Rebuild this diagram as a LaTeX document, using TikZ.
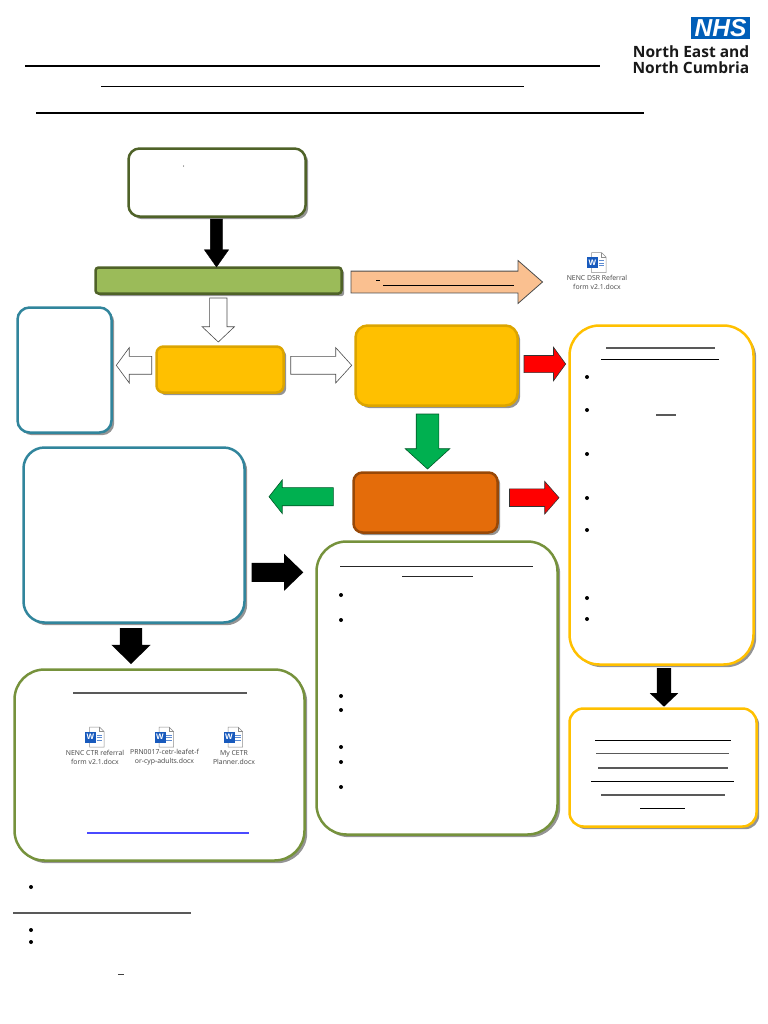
\documentclass[tikz,border=0pt]{standalone}
\usepackage{fontspec}
\setmainfont{Open Sans}
\newfontfamily\nhsfont{Liberation Sans}
\usepackage{tikz}
\usetikzlibrary{shapes.arrows,shadows}

\definecolor{oliveline}{HTML}{4F6228}
\definecolor{barfill}{HTML}{9BBB59}
\definecolor{mossline}{HTML}{76923C}
\definecolor{tealline}{HTML}{31859C}
\definecolor{amberfill}{HTML}{FFC000}
\definecolor{amberline}{HTML}{DCA500}
\definecolor{orangefill}{HTML}{E46C0A}
\definecolor{orangeline}{HTML}{984807}
\definecolor{peachfill}{HTML}{FAC090}
\definecolor{arrowgreen}{HTML}{00B050}
\definecolor{nhsblue}{HTML}{005EB8}
\definecolor{wordblue}{HTML}{185ABD}
\definecolor{linkblue}{HTML}{4A4AFF}
\definecolor{filetext}{HTML}{444444}

\tikzset{
  panel/.style={draw,line width=2.5bp,fill=white,drop shadow={shadow xshift=2.7bp,shadow yshift=-2.7bp,fill=black!60,opacity=0.7}},
  block/.style n args={4}{single arrow,anchor=tail,outer sep=0pt,inner xsep=0pt,inner ysep={#2/2*1bp},
    minimum height=#1 bp,single arrow head extend={(#3-#2)/2*1bp},single arrow tip angle={2*atan(#3/2/#4)}},
  rulehead/.style={line width=2bp,black},
  ruletext/.style={line width=1.2bp,black!65},
  ruleblack/.style={line width=1bp,black},
  dotitem/.style={circle,fill=black,inner sep=0pt,minimum size=4bp},
  filelabel/.style={align=center,font=\fontsize{6.9}{9}\selectfont,text=filetext,inner sep=0pt},
  pics/wordicon/.style={code={
    \draw [fill=white,draw=black!45,line width=0.5bp] (-5bp,10bp) -- (5bp,10bp) -- (9.5bp,5.5bp) -- (9.5bp,-10bp) -- (-5bp,-10bp) -- cycle;
    \draw [draw=black!45,line width=0.5bp] (5bp,10bp) -- (5bp,5.5bp) -- (9.5bp,5.5bp);
    \draw [wordblue!70,line width=0.8bp] (2bp,2bp) -- (7.5bp,2bp) (2bp,-0.5bp) -- (7.5bp,-0.5bp) (2bp,-3bp) -- (7.5bp,-3bp);
    \node at (-4bp,0bp)[fill=wordblue,minimum size=11bp,inner sep=0pt,text=white,font=\nhsfont\bfseries\fontsize{8}{8}\selectfont] {W};
  }},
}

\begin{document}
\begin{tikzpicture}
\useasboundingbox (0bp,0bp) rectangle (768bp,-1024bp);

% title rules
\draw [rulehead] (25bp,-66bp) -- (600bp,-66bp);
\draw [ruleblack] (101bp,-86bp) -- (524bp,-86bp);
\draw [rulehead] (36bp,-113bp) -- (644bp,-113bp);

% logo
\node (nhsbox) at (720.5bp,-28.2bp)[fill=nhsblue,minimum width=59bp,minimum height=22.5bp,inner sep=0pt,text=white,font=\nhsfont\bfseries\itshape\fontsize{24.6}{24}\selectfont] {NHS};
\node (trust1) at (749.5bp,-52bp)[anchor=east,inner sep=0pt,font=\bfseries\fontsize{15.6}{16}\selectfont,text=black!90] {North East and};
\node (trust2) at (749.5bp,-68bp)[anchor=east,inner sep=0pt,font=\bfseries\fontsize{15.6}{16}\selectfont,text=black!90] {North Cumbria};

% boxes
\node (start) at (217bp,-182.5bp)[panel,draw=oliveline,rounded corners=11bp,minimum width=177bp,minimum height=68bp] {};
\node (bar) at (218.5bp,-280.5bp)[panel,draw=oliveline,fill=barfill,rounded corners=3bp,minimum width=246bp,minimum height=26bp] {};
\node (leftnote) at (64.5bp,-370bp)[panel,draw=tealline,rounded corners=12bp,minimum width=94bp,minimum height=125bp] {};
\node (triage) at (220bp,-369.5bp)[panel,draw=amberline,fill=amberfill,rounded corners=7bp,minimum width=127bp,minimum height=46bp] {};
\node (review) at (436.5bp,-365.5bp)[panel,draw=amberline,fill=amberfill,rounded corners=12bp,minimum width=162bp,minimum height=80bp] {};
\node (criteria) at (661.5bp,-495bp)[panel,draw=amberfill,rounded corners=30bp,minimum width=184bp,minimum height=339bp] {};
\node (cetrinfo) at (134bp,-535bp)[panel,draw=tealline,rounded corners=21bp,minimum width=221bp,minimum height=175bp] {};
\node (decide) at (425.5bp,-502.5bp)[panel,draw=orangeline,fill=orangefill,rounded corners=9bp,minimum width=144bp,minimum height=60bp] {};
\node (dsrinfo) at (437bp,-688bp)[panel,draw=mossline,rounded corners=30bp,minimum width=241bp,minimum height=293bp] {};
\node (forms) at (159.5bp,-765bp)[panel,draw=mossline,rounded corners=30bp,minimum width=290bp,minimum height=191bp] {};
\node (outcome) at (663bp,-767.5bp)[panel,draw=amberfill,rounded corners=14bp,minimum width=187bp,minimum height=118bp] {};

% arrows
\node (a1) at (216.5bp,-219bp)[draw=black,fill=black,block={48}{12}{24}{17},rotate=-90] {};
\node (a2) at (218.3bp,-298bp)[draw=black!70,fill=white,line width=0.6bp,block={44}{16.7}{31.7}{15},rotate=-90] {};
\node (a3) at (351bp,-282bp)[draw=black!70,fill=peachfill,line width=0.8bp,block={191.5}{21}{42}{24}] {};
\node (a4) at (151.7bp,-365.3bp)[draw=black!70,fill=white,line width=0.6bp,block={35.4}{17.3}{34.7}{12.7},rotate=180] {};
\node (a5) at (290.7bp,-365.3bp)[draw=black!70,fill=white,line width=0.6bp,block={61}{17.3}{34.7}{15.7}] {};
\node (a6) at (524bp,-364bp)[draw=black!80,fill=red,line width=0.6bp,block={41.7}{16.5}{33}{12}] {};
\node (a7) at (427.5bp,-414bp)[draw=black!50!arrowgreen,fill=arrowgreen,line width=0.6bp,block={55}{22}{44}{20},rotate=-90] {};
\node (a8) at (333.3bp,-496.7bp)[draw=black!50!arrowgreen,fill=arrowgreen,line width=0.6bp,block={64.3}{17.5}{33}{13},rotate=180] {};
\node (a9) at (509.5bp,-497.7bp)[draw=black!80,fill=red,line width=0.6bp,block={49.5}{17}{32}{14}] {};
\node (a10) at (251.7bp,-572.3bp)[fill=black,block={51.6}{18.5}{36.7}{19}] {};
\node (a11) at (131bp,-628bp)[fill=black,block={36}{22}{39}{19},rotate=-90] {};
\node (a12) at (664bp,-668bp)[fill=black,block={38.7}{13.7}{28}{13.3},rotate=-90] {};

% marks on the first box and the peach arrow
\node (speck) at (183.5bp,-166bp)[circle,fill=black,inner sep=0pt,minimum size=1bp] {};
\draw [ruleblack] (376bp,-280bp) -- (380bp,-280bp);
\draw [ruleblack] (383bp,-285bp) -- (514bp,-285bp);

% right panel
\draw [ruletext] (606bp,-348bp) -- (715bp,-348bp);
\draw [ruleblack] (601bp,-359bp) -- (719bp,-359bp);
\node (c1) at (587bp,-377bp)[dotitem] {};
\node (c2) at (587bp,-410bp)[dotitem] {};
\node (c3) at (587bp,-454bp)[dotitem] {};
\node (c4) at (587bp,-498bp)[dotitem] {};
\node (c5) at (587bp,-530bp)[dotitem] {};
\node (c6) at (587bp,-598bp)[dotitem] {};
\node (c7) at (587bp,-619bp)[dotitem] {};
\draw [ruletext] (656bp,-415bp) -- (676bp,-415bp);

% middle panel
\draw [line width=1bp,black!85] (340bp,-566bp) -- (533bp,-566bp);
\draw [line width=1bp,black!85] (402bp,-576bp) -- (473bp,-576bp);
\node (d1) at (341bp,-595bp)[dotitem] {};
\node (d2) at (341bp,-620bp)[dotitem] {};
\node (d3) at (341bp,-696bp)[dotitem] {};
\node (d4) at (341bp,-710bp)[dotitem] {};
\node (d5) at (341bp,-747bp)[dotitem] {};
\node (d6) at (341bp,-762bp)[dotitem] {};
\node (d7) at (341bp,-787bp)[dotitem] {};

% forms panel
\draw [ruletext] (73bp,-693bp) -- (247bp,-693bp);
\pic at (94.5bp,-737bp) {wordicon};
\pic at (164bp,-737bp) {wordicon};
\pic at (233bp,-737bp) {wordicon};
\node (f1) at (95bp,-757.5bp)[filelabel] {NENC CTR referral\\form v2.1.docx};
\node (f2) at (164.5bp,-757.5bp)[filelabel] {PRN0017-cetr-leafet-f\\or-cyp-adults.docx};
\node (f3) at (234bp,-757.5bp)[filelabel] {My CETR\\Planner.docx};
\draw [line width=1.2bp,linkblue] (87bp,-833bp) -- (249bp,-833bp);

% dsr form icon
\pic at (596.5bp,-262.5bp) {wordicon};
\node (f4) at (597bp,-282.5bp)[filelabel] {NENC DSR Referral\\form v2.1.docx};

% outcome panel
\draw [ruleblack] (595bp,-740bp) -- (730.7bp,-740bp);
\draw [ruletext] (596bp,-753.7bp) -- (729.3bp,-753.7bp);
\draw [ruletext] (598bp,-768bp) -- (727.7bp,-768bp);
\draw [ruleblack] (591bp,-781.3bp) -- (733.7bp,-781.3bp);
\draw [ruletext] (601bp,-795bp) -- (724.7bp,-795bp);
\draw [line width=1.5bp,black] (640bp,-808.5bp) -- (685bp,-808.5bp);

% foot of the page
\node (g1) at (31bp,-887bp)[dotitem] {};
\draw [ruletext] (13bp,-913bp) -- (191bp,-913bp);
\node (g2) at (31bp,-930bp)[dotitem] {};
\node (g3) at (31bp,-942bp)[dotitem] {};
\draw [line width=1bp,black!75] (118bp,-974bp) -- (124bp,-974bp);
\end{tikzpicture}
\end{document}
